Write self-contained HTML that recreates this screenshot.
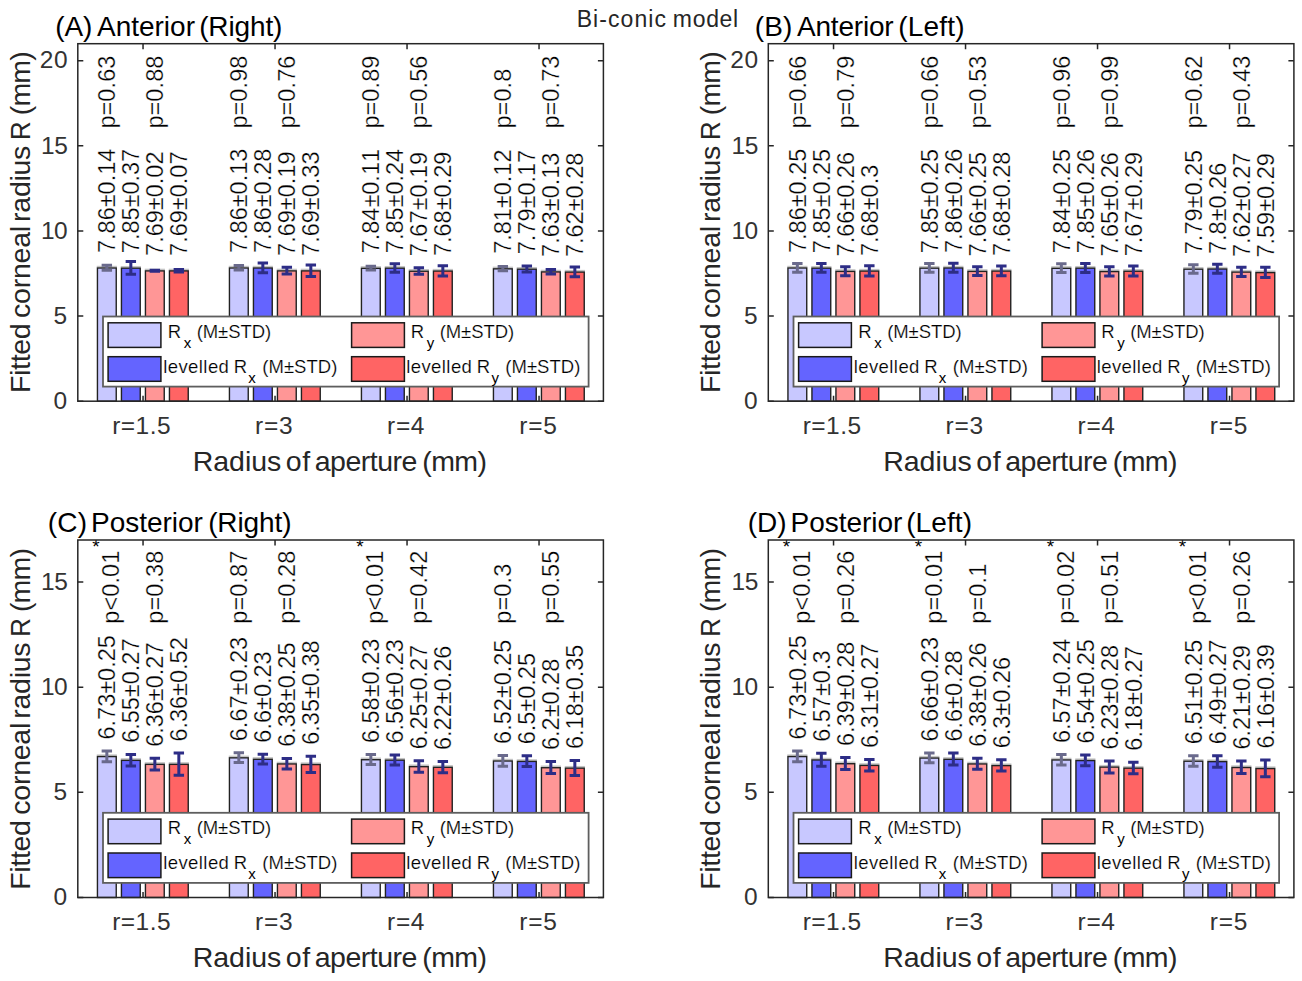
<!DOCTYPE html>
<html><head><meta charset="utf-8"><style>
html,body{margin:0;padding:0;background:#fff;}
svg{display:block;}
text{font-family:"Liberation Sans", sans-serif;font-kerning:none;}
.v{font-size:23.5px;fill:#000;stroke:#fff;stroke-width:0.3px;}
.ast{font-size:19px;fill:#000;}
.tk{font-size:24.5px;fill:#333;}
.xl{font-size:28.5px;fill:#262626;}
.yl{font-size:28.5px;fill:#262626;}
.sb{font-size:15px;fill:#000;}
.ttl{font-size:28px;fill:#000;}
.sup{font-size:23px;fill:#262626;}
.lg{font-size:18.5px;fill:#000;stroke:#fff;stroke-width:0.2px;}
</style></head><body>
<svg width="1302" height="981" viewBox="0 0 1302 981">
<rect width="1302" height="981" fill="#fff"/>
<rect x="96.74" y="265.79" width="20.20" height="1.6" fill="#c4c4c4"/>
<rect x="97.44" y="267.99" width="18.80" height="133.21" fill="#c8c8ff" stroke="#222" stroke-width="1.4"/>
<rect x="120.74" y="265.96" width="20.20" height="1.6" fill="#c4c4c4"/>
<rect x="121.44" y="268.16" width="18.80" height="133.04" fill="#6464ff" stroke="#222" stroke-width="1.4"/>
<rect x="144.74" y="268.69" width="20.20" height="1.6" fill="#c4c4c4"/>
<rect x="145.44" y="270.89" width="18.80" height="130.31" fill="#ff9696" stroke="#222" stroke-width="1.4"/>
<rect x="168.74" y="268.69" width="20.20" height="1.6" fill="#c4c4c4"/>
<rect x="169.44" y="270.89" width="18.80" height="130.31" fill="#ff6464" stroke="#222" stroke-width="1.4"/>
<rect x="228.74" y="265.79" width="20.20" height="1.6" fill="#c4c4c4"/>
<rect x="229.44" y="267.99" width="18.80" height="133.21" fill="#c8c8ff" stroke="#222" stroke-width="1.4"/>
<rect x="252.74" y="265.79" width="20.20" height="1.6" fill="#c4c4c4"/>
<rect x="253.44" y="267.99" width="18.80" height="133.21" fill="#6464ff" stroke="#222" stroke-width="1.4"/>
<rect x="276.74" y="268.69" width="20.20" height="1.6" fill="#c4c4c4"/>
<rect x="277.44" y="270.89" width="18.80" height="130.31" fill="#ff9696" stroke="#222" stroke-width="1.4"/>
<rect x="300.74" y="268.69" width="20.20" height="1.6" fill="#c4c4c4"/>
<rect x="301.44" y="270.89" width="18.80" height="130.31" fill="#ff6464" stroke="#222" stroke-width="1.4"/>
<rect x="360.74" y="266.13" width="20.20" height="1.6" fill="#c4c4c4"/>
<rect x="361.44" y="268.33" width="18.80" height="132.87" fill="#c8c8ff" stroke="#222" stroke-width="1.4"/>
<rect x="384.74" y="265.96" width="20.20" height="1.6" fill="#c4c4c4"/>
<rect x="385.44" y="268.16" width="18.80" height="133.04" fill="#6464ff" stroke="#222" stroke-width="1.4"/>
<rect x="408.74" y="269.03" width="20.20" height="1.6" fill="#c4c4c4"/>
<rect x="409.44" y="271.23" width="18.80" height="129.97" fill="#ff9696" stroke="#222" stroke-width="1.4"/>
<rect x="432.74" y="268.86" width="20.20" height="1.6" fill="#c4c4c4"/>
<rect x="433.44" y="271.06" width="18.80" height="130.14" fill="#ff6464" stroke="#222" stroke-width="1.4"/>
<rect x="492.74" y="266.64" width="20.20" height="1.6" fill="#c4c4c4"/>
<rect x="493.44" y="268.84" width="18.80" height="132.36" fill="#c8c8ff" stroke="#222" stroke-width="1.4"/>
<rect x="516.74" y="266.98" width="20.20" height="1.6" fill="#c4c4c4"/>
<rect x="517.44" y="269.18" width="18.80" height="132.02" fill="#6464ff" stroke="#222" stroke-width="1.4"/>
<rect x="540.74" y="269.71" width="20.20" height="1.6" fill="#c4c4c4"/>
<rect x="541.44" y="271.91" width="18.80" height="129.29" fill="#ff9696" stroke="#222" stroke-width="1.4"/>
<rect x="564.74" y="269.88" width="20.20" height="1.6" fill="#c4c4c4"/>
<rect x="565.44" y="272.08" width="18.80" height="129.12" fill="#ff6464" stroke="#222" stroke-width="1.4"/>
<path d="M106.84 265.31V270.28M101.64 265.31H112.04M101.64 270.28H112.04" stroke="#6a6a8c" stroke-width="3.0" fill="none"/>
<path d="M130.84 261.56V274.36M125.64 261.56H136.04M125.64 274.36H136.04" stroke="#2d2d86" stroke-width="3.0" fill="none"/>
<path d="M154.84 270.25V271.13M149.64 270.25H160.04M149.64 271.13H160.04" stroke="#2d2d86" stroke-width="3.0" fill="none"/>
<path d="M178.84 269.40V271.98M173.64 269.40H184.04M173.64 271.98H184.04" stroke="#2d2d86" stroke-width="3.0" fill="none"/>
<path d="M238.84 265.48V270.11M233.64 265.48H244.04M233.64 270.11H244.04" stroke="#6a6a8c" stroke-width="3.0" fill="none"/>
<path d="M262.84 262.93V272.66M257.64 262.93H268.04M257.64 272.66H268.04" stroke="#2d2d86" stroke-width="3.0" fill="none"/>
<path d="M286.84 267.35V274.02M281.64 267.35H292.04M281.64 274.02H292.04" stroke="#2d2d86" stroke-width="3.0" fill="none"/>
<path d="M310.84 264.97V276.40M305.64 264.97H316.04M305.64 276.40H316.04" stroke="#2d2d86" stroke-width="3.0" fill="none"/>
<path d="M370.84 266.16V270.11M365.64 266.16H376.04M365.64 270.11H376.04" stroke="#6a6a8c" stroke-width="3.0" fill="none"/>
<path d="M394.84 263.78V272.15M389.64 263.78H400.04M389.64 272.15H400.04" stroke="#2d2d86" stroke-width="3.0" fill="none"/>
<path d="M418.84 267.69V274.36M413.64 267.69H424.04M413.64 274.36H424.04" stroke="#2d2d86" stroke-width="3.0" fill="none"/>
<path d="M442.84 265.82V275.89M437.64 265.82H448.04M437.64 275.89H448.04" stroke="#2d2d86" stroke-width="3.0" fill="none"/>
<path d="M502.84 266.50V270.79M497.64 266.50H508.04M497.64 270.79H508.04" stroke="#6a6a8c" stroke-width="3.0" fill="none"/>
<path d="M526.84 265.99V271.98M521.64 265.99H532.04M521.64 271.98H532.04" stroke="#2d2d86" stroke-width="3.0" fill="none"/>
<path d="M550.84 269.40V274.02M545.64 269.40H556.04M545.64 274.02H556.04" stroke="#2d2d86" stroke-width="3.0" fill="none"/>
<path d="M574.84 267.01V276.75M569.64 267.01H580.04M569.64 276.75H580.04" stroke="#2d2d86" stroke-width="3.0" fill="none"/>
<text class="v" transform="translate(115.24,253.00) rotate(-90)" textLength="104.37" lengthAdjust="spacing">7.86±0.14</text>
<text class="v" transform="translate(139.24,253.17) rotate(-90)" textLength="104.37" lengthAdjust="spacing">7.85±0.37</text>
<text class="v" transform="translate(163.24,255.89) rotate(-90)" textLength="104.37" lengthAdjust="spacing">7.69±0.02</text>
<text class="v" transform="translate(187.24,255.89) rotate(-90)" textLength="104.37" lengthAdjust="spacing">7.69±0.07</text>
<text class="v" transform="translate(247.24,253.00) rotate(-90)" textLength="104.37" lengthAdjust="spacing">7.86±0.13</text>
<text class="v" transform="translate(271.24,253.00) rotate(-90)" textLength="104.37" lengthAdjust="spacing">7.86±0.28</text>
<text class="v" transform="translate(295.24,255.89) rotate(-90)" textLength="104.37" lengthAdjust="spacing">7.69±0.19</text>
<text class="v" transform="translate(319.24,255.89) rotate(-90)" textLength="104.37" lengthAdjust="spacing">7.69±0.33</text>
<text class="v" transform="translate(379.24,253.34) rotate(-90)" textLength="104.37" lengthAdjust="spacing">7.84±0.11</text>
<text class="v" transform="translate(403.24,253.17) rotate(-90)" textLength="104.37" lengthAdjust="spacing">7.85±0.24</text>
<text class="v" transform="translate(427.24,256.23) rotate(-90)" textLength="104.37" lengthAdjust="spacing">7.67±0.19</text>
<text class="v" transform="translate(451.24,256.06) rotate(-90)" textLength="104.37" lengthAdjust="spacing">7.68±0.29</text>
<text class="v" transform="translate(511.24,253.85) rotate(-90)" textLength="104.37" lengthAdjust="spacing">7.81±0.12</text>
<text class="v" transform="translate(535.24,254.19) rotate(-90)" textLength="104.37" lengthAdjust="spacing">7.79±0.17</text>
<text class="v" transform="translate(559.24,256.91) rotate(-90)" textLength="104.37" lengthAdjust="spacing">7.63±0.13</text>
<text class="v" transform="translate(583.24,257.08) rotate(-90)" textLength="104.37" lengthAdjust="spacing">7.62±0.28</text>
<text class="v" transform="translate(115.24,128.61) rotate(-90)" textLength="73.03" lengthAdjust="spacing">p=0.63</text>
<text class="v" transform="translate(163.24,128.61) rotate(-90)" textLength="73.03" lengthAdjust="spacing">p=0.88</text>
<text class="v" transform="translate(247.24,128.61) rotate(-90)" textLength="73.03" lengthAdjust="spacing">p=0.98</text>
<text class="v" transform="translate(295.24,128.61) rotate(-90)" textLength="73.03" lengthAdjust="spacing">p=0.76</text>
<text class="v" transform="translate(379.24,128.61) rotate(-90)" textLength="73.03" lengthAdjust="spacing">p=0.89</text>
<text class="v" transform="translate(427.24,128.61) rotate(-90)" textLength="73.03" lengthAdjust="spacing">p=0.56</text>
<text class="v" transform="translate(511.24,128.61) rotate(-90)" textLength="59.96" lengthAdjust="spacing">p=0.8</text>
<text class="v" transform="translate(559.24,128.61) rotate(-90)" textLength="73.03" lengthAdjust="spacing">p=0.73</text>
<rect x="103.00" y="316.50" width="485.6" height="70.1" fill="#fff" stroke="#5e5e5e" stroke-width="1.8"/>
<rect x="108.10" y="322.80" width="52.8" height="24.6" fill="#c8c8ff" stroke="#1a1a1a" stroke-width="1.5"/>
<text class="lg" x="167.68" y="337.80">R</text>
<text class="sb" x="183.63" y="348.00">x</text>
<text class="lg" x="196.65" y="337.80" textLength="74.59" lengthAdjust="spacing">(M±STD)</text>
<rect x="108.10" y="356.70" width="52.8" height="24.6" fill="#6464ff" stroke="#1a1a1a" stroke-width="1.5"/>
<text class="lg" x="163.15" y="372.70" textLength="65.74" lengthAdjust="spacing">levelled</text>
<text class="lg" x="233.78" y="372.70">R</text>
<text class="sb" x="248.33" y="382.90">x</text>
<text class="lg" x="262.25" y="372.70" textLength="75.19" lengthAdjust="spacing">(M±STD)</text>
<rect x="351.60" y="322.80" width="52.8" height="24.6" fill="#ff9696" stroke="#1a1a1a" stroke-width="1.5"/>
<text class="lg" x="410.68" y="337.80">R</text>
<text class="sb" x="426.76" y="348.00">y</text>
<text class="lg" x="439.65" y="337.80" textLength="74.59" lengthAdjust="spacing">(M±STD)</text>
<rect x="351.60" y="356.70" width="52.8" height="24.6" fill="#ff6464" stroke="#1a1a1a" stroke-width="1.5"/>
<text class="lg" x="406.15" y="372.70" textLength="65.74" lengthAdjust="spacing">levelled</text>
<text class="lg" x="476.78" y="372.70">R</text>
<text class="sb" x="491.46" y="382.90">y</text>
<text class="lg" x="505.25" y="372.70" textLength="75.19" lengthAdjust="spacing">(M±STD)</text>
<rect x="77.80" y="43.70" width="525.60" height="357.50" fill="none" stroke="#262626" stroke-width="1.5"/>
<path d="M143.04 401.20v-5.5M143.04 43.70v5.5M275.04 401.20v-5.5M275.04 43.70v5.5M407.04 401.20v-5.5M407.04 43.70v5.5M539.04 401.20v-5.5M539.04 43.70v5.5M77.80 401.20h5.5M603.40 401.20h-5.5M77.80 316.08h5.5M603.40 316.08h-5.5M77.80 230.96h5.5M603.40 230.96h-5.5M77.80 145.84h5.5M603.40 145.84h-5.5M77.80 60.72h5.5M603.40 60.72h-5.5" stroke="#262626" stroke-width="1.5" fill="none"/>
<text class="tk" x="53.54" y="408.90">0</text>
<text class="tk" x="53.52" y="323.78">5</text>
<text class="tk" x="41.03" y="238.66" textLength="26.72" lengthAdjust="spacing">10</text>
<text class="tk" x="41.03" y="153.54" textLength="26.80" lengthAdjust="spacing">15</text>
<text class="tk" x="39.77" y="68.42" textLength="27.99" lengthAdjust="spacing">20</text>
<text class="tk" x="112.17" y="433.90" textLength="58.36" lengthAdjust="spacing">r=1.5</text>
<text class="tk" x="255.07" y="433.90" textLength="37.60" lengthAdjust="spacing">r=3</text>
<text class="tk" x="387.07" y="433.90" textLength="37.44" lengthAdjust="spacing">r=4</text>
<text class="tk" x="519.27" y="433.90" textLength="37.56" lengthAdjust="spacing">r=5</text>
<text class="xl" x="192.76" y="470.80" textLength="88.47" lengthAdjust="spacing">Radius</text>
<text class="xl" x="285.80" y="470.80" textLength="24.46" lengthAdjust="spacing">of</text>
<text class="xl" x="314.69" y="470.80" textLength="102.68" lengthAdjust="spacing">aperture</text>
<text class="xl" x="422.33" y="470.80" textLength="64.63" lengthAdjust="spacing">(mm)</text>
<text class="yl" transform="translate(29.90,393.04) rotate(-90)" textLength="69.77" lengthAdjust="spacing">Fitted</text>
<text class="yl" transform="translate(29.90,317.91) rotate(-90)" textLength="92.02" lengthAdjust="spacing">corneal</text>
<text class="yl" transform="translate(29.90,221.89) rotate(-90)" textLength="76.22" lengthAdjust="spacing">radius</text>
<text class="yl" transform="translate(29.90,139.94) rotate(-90)" textLength="18.66" lengthAdjust="spacingAndGlyphs">R</text>
<text class="yl" transform="translate(29.90,115.27) rotate(-90)" textLength="64.03" lengthAdjust="spacing">(mm)</text>
<text class="ttl" x="55.16" y="35.60" textLength="37.17" lengthAdjust="spacing">(A)</text>
<text class="ttl" x="96.95" y="35.60" textLength="98.02" lengthAdjust="spacing">Anterior</text>
<text class="ttl" x="199.16" y="35.60" textLength="83.27" lengthAdjust="spacing">(Right)</text>
<rect x="787.24" y="265.79" width="20.20" height="1.6" fill="#c4c4c4"/>
<rect x="787.94" y="267.99" width="18.80" height="133.21" fill="#c8c8ff" stroke="#222" stroke-width="1.4"/>
<rect x="811.24" y="265.96" width="20.20" height="1.6" fill="#c4c4c4"/>
<rect x="811.94" y="268.16" width="18.80" height="133.04" fill="#6464ff" stroke="#222" stroke-width="1.4"/>
<rect x="835.24" y="269.20" width="20.20" height="1.6" fill="#c4c4c4"/>
<rect x="835.94" y="271.40" width="18.80" height="129.80" fill="#ff9696" stroke="#222" stroke-width="1.4"/>
<rect x="859.24" y="268.86" width="20.20" height="1.6" fill="#c4c4c4"/>
<rect x="859.94" y="271.06" width="18.80" height="130.14" fill="#ff6464" stroke="#222" stroke-width="1.4"/>
<rect x="919.24" y="265.96" width="20.20" height="1.6" fill="#c4c4c4"/>
<rect x="919.94" y="268.16" width="18.80" height="133.04" fill="#c8c8ff" stroke="#222" stroke-width="1.4"/>
<rect x="943.24" y="265.79" width="20.20" height="1.6" fill="#c4c4c4"/>
<rect x="943.94" y="267.99" width="18.80" height="133.21" fill="#6464ff" stroke="#222" stroke-width="1.4"/>
<rect x="967.24" y="269.20" width="20.20" height="1.6" fill="#c4c4c4"/>
<rect x="967.94" y="271.40" width="18.80" height="129.80" fill="#ff9696" stroke="#222" stroke-width="1.4"/>
<rect x="991.24" y="268.86" width="20.20" height="1.6" fill="#c4c4c4"/>
<rect x="991.94" y="271.06" width="18.80" height="130.14" fill="#ff6464" stroke="#222" stroke-width="1.4"/>
<rect x="1051.24" y="266.13" width="20.20" height="1.6" fill="#c4c4c4"/>
<rect x="1051.94" y="268.33" width="18.80" height="132.87" fill="#c8c8ff" stroke="#222" stroke-width="1.4"/>
<rect x="1075.24" y="265.96" width="20.20" height="1.6" fill="#c4c4c4"/>
<rect x="1075.94" y="268.16" width="18.80" height="133.04" fill="#6464ff" stroke="#222" stroke-width="1.4"/>
<rect x="1099.24" y="269.37" width="20.20" height="1.6" fill="#c4c4c4"/>
<rect x="1099.94" y="271.57" width="18.80" height="129.63" fill="#ff9696" stroke="#222" stroke-width="1.4"/>
<rect x="1123.24" y="269.03" width="20.20" height="1.6" fill="#c4c4c4"/>
<rect x="1123.94" y="271.23" width="18.80" height="129.97" fill="#ff6464" stroke="#222" stroke-width="1.4"/>
<rect x="1183.24" y="266.98" width="20.20" height="1.6" fill="#c4c4c4"/>
<rect x="1183.94" y="269.18" width="18.80" height="132.02" fill="#c8c8ff" stroke="#222" stroke-width="1.4"/>
<rect x="1207.24" y="266.81" width="20.20" height="1.6" fill="#c4c4c4"/>
<rect x="1207.94" y="269.01" width="18.80" height="132.19" fill="#6464ff" stroke="#222" stroke-width="1.4"/>
<rect x="1231.24" y="269.88" width="20.20" height="1.6" fill="#c4c4c4"/>
<rect x="1231.94" y="272.08" width="18.80" height="129.12" fill="#ff9696" stroke="#222" stroke-width="1.4"/>
<rect x="1255.24" y="270.39" width="20.20" height="1.6" fill="#c4c4c4"/>
<rect x="1255.94" y="272.59" width="18.80" height="128.61" fill="#ff6464" stroke="#222" stroke-width="1.4"/>
<path d="M797.34 263.44V272.15M792.14 263.44H802.54M792.14 272.15H802.54" stroke="#6a6a8c" stroke-width="3.0" fill="none"/>
<path d="M821.34 263.61V272.32M816.14 263.61H826.54M816.14 272.32H826.54" stroke="#2d2d86" stroke-width="3.0" fill="none"/>
<path d="M845.34 266.67V275.72M840.14 266.67H850.54M840.14 275.72H850.54" stroke="#2d2d86" stroke-width="3.0" fill="none"/>
<path d="M869.34 265.65V276.06M864.14 265.65H874.54M864.14 276.06H874.54" stroke="#2d2d86" stroke-width="3.0" fill="none"/>
<path d="M929.34 263.61V272.32M924.14 263.61H934.54M924.14 272.32H934.54" stroke="#6a6a8c" stroke-width="3.0" fill="none"/>
<path d="M953.34 263.27V272.32M948.14 263.27H958.54M948.14 272.32H958.54" stroke="#2d2d86" stroke-width="3.0" fill="none"/>
<path d="M977.34 266.84V275.55M972.14 266.84H982.54M972.14 275.55H982.54" stroke="#2d2d86" stroke-width="3.0" fill="none"/>
<path d="M1001.34 265.99V275.72M996.14 265.99H1006.54M996.14 275.72H1006.54" stroke="#2d2d86" stroke-width="3.0" fill="none"/>
<path d="M1061.34 263.78V272.49M1056.14 263.78H1066.54M1056.14 272.49H1066.54" stroke="#6a6a8c" stroke-width="3.0" fill="none"/>
<path d="M1085.34 263.44V272.49M1080.14 263.44H1090.54M1080.14 272.49H1090.54" stroke="#2d2d86" stroke-width="3.0" fill="none"/>
<path d="M1109.34 266.84V275.89M1104.14 266.84H1114.54M1104.14 275.89H1114.54" stroke="#2d2d86" stroke-width="3.0" fill="none"/>
<path d="M1133.34 265.99V276.06M1128.14 265.99H1138.54M1128.14 276.06H1138.54" stroke="#2d2d86" stroke-width="3.0" fill="none"/>
<path d="M1193.34 264.63V273.34M1188.14 264.63H1198.54M1188.14 273.34H1198.54" stroke="#6a6a8c" stroke-width="3.0" fill="none"/>
<path d="M1217.34 264.29V273.34M1212.14 264.29H1222.54M1212.14 273.34H1222.54" stroke="#2d2d86" stroke-width="3.0" fill="none"/>
<path d="M1241.34 267.18V276.57M1236.14 267.18H1246.54M1236.14 276.57H1246.54" stroke="#2d2d86" stroke-width="3.0" fill="none"/>
<path d="M1265.34 267.35V277.43M1260.14 267.35H1270.54M1260.14 277.43H1270.54" stroke="#2d2d86" stroke-width="3.0" fill="none"/>
<text class="v" transform="translate(805.74,253.00) rotate(-90)" textLength="104.37" lengthAdjust="spacing">7.86±0.25</text>
<text class="v" transform="translate(829.74,253.17) rotate(-90)" textLength="104.37" lengthAdjust="spacing">7.85±0.25</text>
<text class="v" transform="translate(853.74,256.40) rotate(-90)" textLength="104.37" lengthAdjust="spacing">7.66±0.26</text>
<text class="v" transform="translate(877.74,256.06) rotate(-90)" textLength="91.30" lengthAdjust="spacing">7.68±0.3</text>
<text class="v" transform="translate(937.74,253.17) rotate(-90)" textLength="104.37" lengthAdjust="spacing">7.85±0.25</text>
<text class="v" transform="translate(961.74,253.00) rotate(-90)" textLength="104.37" lengthAdjust="spacing">7.86±0.26</text>
<text class="v" transform="translate(985.74,256.40) rotate(-90)" textLength="104.37" lengthAdjust="spacing">7.66±0.25</text>
<text class="v" transform="translate(1009.74,256.06) rotate(-90)" textLength="104.37" lengthAdjust="spacing">7.68±0.28</text>
<text class="v" transform="translate(1069.74,253.34) rotate(-90)" textLength="104.37" lengthAdjust="spacing">7.84±0.25</text>
<text class="v" transform="translate(1093.74,253.17) rotate(-90)" textLength="104.37" lengthAdjust="spacing">7.85±0.26</text>
<text class="v" transform="translate(1117.74,256.57) rotate(-90)" textLength="104.37" lengthAdjust="spacing">7.65±0.26</text>
<text class="v" transform="translate(1141.74,256.23) rotate(-90)" textLength="104.37" lengthAdjust="spacing">7.67±0.29</text>
<text class="v" transform="translate(1201.74,254.19) rotate(-90)" textLength="104.37" lengthAdjust="spacing">7.79±0.25</text>
<text class="v" transform="translate(1225.74,254.02) rotate(-90)" textLength="91.30" lengthAdjust="spacing">7.8±0.26</text>
<text class="v" transform="translate(1249.74,257.08) rotate(-90)" textLength="104.37" lengthAdjust="spacing">7.62±0.27</text>
<text class="v" transform="translate(1273.74,257.59) rotate(-90)" textLength="104.37" lengthAdjust="spacing">7.59±0.29</text>
<text class="v" transform="translate(805.74,128.61) rotate(-90)" textLength="73.03" lengthAdjust="spacing">p=0.66</text>
<text class="v" transform="translate(853.74,128.61) rotate(-90)" textLength="73.03" lengthAdjust="spacing">p=0.79</text>
<text class="v" transform="translate(937.74,128.61) rotate(-90)" textLength="73.03" lengthAdjust="spacing">p=0.66</text>
<text class="v" transform="translate(985.74,128.61) rotate(-90)" textLength="73.03" lengthAdjust="spacing">p=0.53</text>
<text class="v" transform="translate(1069.74,128.61) rotate(-90)" textLength="73.03" lengthAdjust="spacing">p=0.96</text>
<text class="v" transform="translate(1117.74,128.61) rotate(-90)" textLength="73.03" lengthAdjust="spacing">p=0.99</text>
<text class="v" transform="translate(1201.74,128.61) rotate(-90)" textLength="73.03" lengthAdjust="spacing">p=0.62</text>
<text class="v" transform="translate(1249.74,128.61) rotate(-90)" textLength="73.03" lengthAdjust="spacing">p=0.43</text>
<rect x="793.50" y="316.50" width="485.6" height="70.1" fill="#fff" stroke="#5e5e5e" stroke-width="1.8"/>
<rect x="798.60" y="322.80" width="52.8" height="24.6" fill="#c8c8ff" stroke="#1a1a1a" stroke-width="1.5"/>
<text class="lg" x="858.18" y="337.80">R</text>
<text class="sb" x="874.13" y="348.00">x</text>
<text class="lg" x="887.15" y="337.80" textLength="74.59" lengthAdjust="spacing">(M±STD)</text>
<rect x="798.60" y="356.70" width="52.8" height="24.6" fill="#6464ff" stroke="#1a1a1a" stroke-width="1.5"/>
<text class="lg" x="853.65" y="372.70" textLength="65.74" lengthAdjust="spacing">levelled</text>
<text class="lg" x="924.28" y="372.70">R</text>
<text class="sb" x="938.83" y="382.90">x</text>
<text class="lg" x="952.75" y="372.70" textLength="75.19" lengthAdjust="spacing">(M±STD)</text>
<rect x="1042.10" y="322.80" width="52.8" height="24.6" fill="#ff9696" stroke="#1a1a1a" stroke-width="1.5"/>
<text class="lg" x="1101.18" y="337.80">R</text>
<text class="sb" x="1117.26" y="348.00">y</text>
<text class="lg" x="1130.15" y="337.80" textLength="74.59" lengthAdjust="spacing">(M±STD)</text>
<rect x="1042.10" y="356.70" width="52.8" height="24.6" fill="#ff6464" stroke="#1a1a1a" stroke-width="1.5"/>
<text class="lg" x="1096.65" y="372.70" textLength="65.74" lengthAdjust="spacing">levelled</text>
<text class="lg" x="1167.28" y="372.70">R</text>
<text class="sb" x="1181.96" y="382.90">y</text>
<text class="lg" x="1195.75" y="372.70" textLength="75.19" lengthAdjust="spacing">(M±STD)</text>
<rect x="768.30" y="43.70" width="525.60" height="357.50" fill="none" stroke="#262626" stroke-width="1.5"/>
<path d="M833.54 401.20v-5.5M833.54 43.70v5.5M965.54 401.20v-5.5M965.54 43.70v5.5M1097.54 401.20v-5.5M1097.54 43.70v5.5M1229.54 401.20v-5.5M1229.54 43.70v5.5M768.30 401.20h5.5M1293.90 401.20h-5.5M768.30 316.08h5.5M1293.90 316.08h-5.5M768.30 230.96h5.5M1293.90 230.96h-5.5M768.30 145.84h5.5M1293.90 145.84h-5.5M768.30 60.72h5.5M1293.90 60.72h-5.5" stroke="#262626" stroke-width="1.5" fill="none"/>
<text class="tk" x="744.04" y="408.90">0</text>
<text class="tk" x="744.02" y="323.78">5</text>
<text class="tk" x="731.53" y="238.66" textLength="26.72" lengthAdjust="spacing">10</text>
<text class="tk" x="731.53" y="153.54" textLength="26.80" lengthAdjust="spacing">15</text>
<text class="tk" x="730.27" y="68.42" textLength="27.99" lengthAdjust="spacing">20</text>
<text class="tk" x="802.67" y="433.90" textLength="58.36" lengthAdjust="spacing">r=1.5</text>
<text class="tk" x="945.57" y="433.90" textLength="37.60" lengthAdjust="spacing">r=3</text>
<text class="tk" x="1077.57" y="433.90" textLength="37.44" lengthAdjust="spacing">r=4</text>
<text class="tk" x="1209.77" y="433.90" textLength="37.56" lengthAdjust="spacing">r=5</text>
<text class="xl" x="883.26" y="470.80" textLength="88.47" lengthAdjust="spacing">Radius</text>
<text class="xl" x="976.30" y="470.80" textLength="24.46" lengthAdjust="spacing">of</text>
<text class="xl" x="1005.19" y="470.80" textLength="102.68" lengthAdjust="spacing">aperture</text>
<text class="xl" x="1112.83" y="470.80" textLength="64.63" lengthAdjust="spacing">(mm)</text>
<text class="yl" transform="translate(720.40,393.04) rotate(-90)" textLength="69.77" lengthAdjust="spacing">Fitted</text>
<text class="yl" transform="translate(720.40,317.91) rotate(-90)" textLength="92.02" lengthAdjust="spacing">corneal</text>
<text class="yl" transform="translate(720.40,221.89) rotate(-90)" textLength="76.22" lengthAdjust="spacing">radius</text>
<text class="yl" transform="translate(720.40,139.94) rotate(-90)" textLength="18.66" lengthAdjust="spacingAndGlyphs">R</text>
<text class="yl" transform="translate(720.40,115.27) rotate(-90)" textLength="64.03" lengthAdjust="spacing">(mm)</text>
<text class="ttl" x="754.76" y="35.60" textLength="37.57" lengthAdjust="spacing">(B)</text>
<text class="ttl" x="796.95" y="35.60" textLength="96.72" lengthAdjust="spacing">Anterior</text>
<text class="ttl" x="898.36" y="35.60" textLength="66.17" lengthAdjust="spacing">(Left)</text>
<rect x="96.74" y="754.37" width="20.20" height="1.6" fill="#c4c4c4"/>
<rect x="97.44" y="756.57" width="18.80" height="140.93" fill="#c8c8ff" stroke="#222" stroke-width="1.4"/>
<rect x="120.74" y="758.16" width="20.20" height="1.6" fill="#c4c4c4"/>
<rect x="121.44" y="760.36" width="18.80" height="137.14" fill="#6464ff" stroke="#222" stroke-width="1.4"/>
<rect x="144.74" y="762.15" width="20.20" height="1.6" fill="#c4c4c4"/>
<rect x="145.44" y="764.35" width="18.80" height="133.15" fill="#ff9696" stroke="#222" stroke-width="1.4"/>
<rect x="168.74" y="762.15" width="20.20" height="1.6" fill="#c4c4c4"/>
<rect x="169.44" y="764.35" width="18.80" height="133.15" fill="#ff6464" stroke="#222" stroke-width="1.4"/>
<rect x="228.74" y="755.63" width="20.20" height="1.6" fill="#c4c4c4"/>
<rect x="229.44" y="757.83" width="18.80" height="139.67" fill="#c8c8ff" stroke="#222" stroke-width="1.4"/>
<rect x="252.74" y="757.11" width="20.20" height="1.6" fill="#c4c4c4"/>
<rect x="253.44" y="759.31" width="18.80" height="138.19" fill="#6464ff" stroke="#222" stroke-width="1.4"/>
<rect x="276.74" y="761.73" width="20.20" height="1.6" fill="#c4c4c4"/>
<rect x="277.44" y="763.93" width="18.80" height="133.57" fill="#ff9696" stroke="#222" stroke-width="1.4"/>
<rect x="300.74" y="762.36" width="20.20" height="1.6" fill="#c4c4c4"/>
<rect x="301.44" y="764.56" width="18.80" height="132.94" fill="#ff6464" stroke="#222" stroke-width="1.4"/>
<rect x="360.74" y="757.53" width="20.20" height="1.6" fill="#c4c4c4"/>
<rect x="361.44" y="759.73" width="18.80" height="137.77" fill="#c8c8ff" stroke="#222" stroke-width="1.4"/>
<rect x="384.74" y="757.95" width="20.20" height="1.6" fill="#c4c4c4"/>
<rect x="385.44" y="760.15" width="18.80" height="137.35" fill="#6464ff" stroke="#222" stroke-width="1.4"/>
<rect x="408.74" y="764.47" width="20.20" height="1.6" fill="#c4c4c4"/>
<rect x="409.44" y="766.67" width="18.80" height="130.83" fill="#ff9696" stroke="#222" stroke-width="1.4"/>
<rect x="432.74" y="765.10" width="20.20" height="1.6" fill="#c4c4c4"/>
<rect x="433.44" y="767.30" width="18.80" height="130.20" fill="#ff6464" stroke="#222" stroke-width="1.4"/>
<rect x="492.74" y="758.79" width="20.20" height="1.6" fill="#c4c4c4"/>
<rect x="493.44" y="760.99" width="18.80" height="136.51" fill="#c8c8ff" stroke="#222" stroke-width="1.4"/>
<rect x="516.74" y="759.21" width="20.20" height="1.6" fill="#c4c4c4"/>
<rect x="517.44" y="761.41" width="18.80" height="136.09" fill="#6464ff" stroke="#222" stroke-width="1.4"/>
<rect x="540.74" y="765.52" width="20.20" height="1.6" fill="#c4c4c4"/>
<rect x="541.44" y="767.72" width="18.80" height="129.78" fill="#ff9696" stroke="#222" stroke-width="1.4"/>
<rect x="564.74" y="765.94" width="20.20" height="1.6" fill="#c4c4c4"/>
<rect x="565.44" y="768.14" width="18.80" height="129.36" fill="#ff6464" stroke="#222" stroke-width="1.4"/>
<path d="M106.84 751.01V761.73M101.64 751.01H112.04M101.64 761.73H112.04" stroke="#6a6a8c" stroke-width="3.0" fill="none"/>
<path d="M130.84 754.38V765.94M125.64 754.38H136.04M125.64 765.94H136.04" stroke="#2d2d86" stroke-width="3.0" fill="none"/>
<path d="M154.84 758.37V769.93M149.64 758.37H160.04M149.64 769.93H160.04" stroke="#2d2d86" stroke-width="3.0" fill="none"/>
<path d="M178.84 753.12V775.19M173.64 753.12H184.04M173.64 775.19H184.04" stroke="#2d2d86" stroke-width="3.0" fill="none"/>
<path d="M238.84 752.70V762.57M233.64 752.70H244.04M233.64 762.57H244.04" stroke="#6a6a8c" stroke-width="3.0" fill="none"/>
<path d="M262.84 754.17V764.04M257.64 754.17H268.04M257.64 764.04H268.04" stroke="#2d2d86" stroke-width="3.0" fill="none"/>
<path d="M286.84 758.38V769.09M281.64 758.38H292.04M281.64 769.09H292.04" stroke="#2d2d86" stroke-width="3.0" fill="none"/>
<path d="M310.84 756.27V772.45M305.64 756.27H316.04M305.64 772.45H316.04" stroke="#2d2d86" stroke-width="3.0" fill="none"/>
<path d="M370.84 754.59V764.46M365.64 754.59H376.04M365.64 764.46H376.04" stroke="#6a6a8c" stroke-width="3.0" fill="none"/>
<path d="M394.84 755.01V764.88M389.64 755.01H400.04M389.64 764.88H400.04" stroke="#2d2d86" stroke-width="3.0" fill="none"/>
<path d="M418.84 760.69V772.24M413.64 760.69H424.04M413.64 772.24H424.04" stroke="#2d2d86" stroke-width="3.0" fill="none"/>
<path d="M442.84 761.53V772.66M437.64 761.53H448.04M437.64 772.66H448.04" stroke="#2d2d86" stroke-width="3.0" fill="none"/>
<path d="M502.84 755.43V766.15M497.64 755.43H508.04M497.64 766.15H508.04" stroke="#6a6a8c" stroke-width="3.0" fill="none"/>
<path d="M526.84 755.85V766.57M521.64 755.85H532.04M521.64 766.57H532.04" stroke="#2d2d86" stroke-width="3.0" fill="none"/>
<path d="M550.84 761.53V773.51M545.64 761.53H556.04M545.64 773.51H556.04" stroke="#2d2d86" stroke-width="3.0" fill="none"/>
<path d="M574.84 760.48V775.40M569.64 760.48H580.04M569.64 775.40H580.04" stroke="#2d2d86" stroke-width="3.0" fill="none"/>
<text class="v" transform="translate(115.24,739.51) rotate(-90)" textLength="104.37" lengthAdjust="spacing">6.73±0.25</text>
<text class="v" transform="translate(139.24,742.87) rotate(-90)" textLength="104.37" lengthAdjust="spacing">6.55±0.27</text>
<text class="v" transform="translate(163.24,746.87) rotate(-90)" textLength="104.37" lengthAdjust="spacing">6.36±0.27</text>
<text class="v" transform="translate(187.24,741.61) rotate(-90)" textLength="104.37" lengthAdjust="spacing">6.36±0.52</text>
<text class="v" transform="translate(247.24,741.19) rotate(-90)" textLength="104.37" lengthAdjust="spacing">6.67±0.23</text>
<text class="v" transform="translate(271.24,742.66) rotate(-90)" textLength="91.30" lengthAdjust="spacing">6.6±0.23</text>
<text class="v" transform="translate(295.24,746.87) rotate(-90)" textLength="104.37" lengthAdjust="spacing">6.38±0.25</text>
<text class="v" transform="translate(319.24,744.77) rotate(-90)" textLength="104.37" lengthAdjust="spacing">6.35±0.38</text>
<text class="v" transform="translate(379.24,743.08) rotate(-90)" textLength="104.37" lengthAdjust="spacing">6.58±0.23</text>
<text class="v" transform="translate(403.24,743.50) rotate(-90)" textLength="104.37" lengthAdjust="spacing">6.56±0.23</text>
<text class="v" transform="translate(427.24,749.18) rotate(-90)" textLength="104.37" lengthAdjust="spacing">6.25±0.27</text>
<text class="v" transform="translate(451.24,750.02) rotate(-90)" textLength="104.37" lengthAdjust="spacing">6.22±0.26</text>
<text class="v" transform="translate(511.24,743.92) rotate(-90)" textLength="104.37" lengthAdjust="spacing">6.52±0.25</text>
<text class="v" transform="translate(535.24,744.34) rotate(-90)" textLength="91.30" lengthAdjust="spacing">6.5±0.25</text>
<text class="v" transform="translate(559.24,750.02) rotate(-90)" textLength="91.30" lengthAdjust="spacing">6.2±0.28</text>
<text class="v" transform="translate(583.24,748.97) rotate(-90)" textLength="104.37" lengthAdjust="spacing">6.18±0.35</text>
<text class="v" transform="translate(119.04,623.71) rotate(-90)" textLength="73.03" lengthAdjust="spacing">p&lt;0.01</text>
<text class="ast" x="96.04" y="552.80" text-anchor="middle">*</text>
<text class="v" transform="translate(163.24,623.71) rotate(-90)" textLength="73.03" lengthAdjust="spacing">p=0.38</text>
<text class="v" transform="translate(247.24,623.71) rotate(-90)" textLength="73.03" lengthAdjust="spacing">p=0.87</text>
<text class="v" transform="translate(295.24,623.71) rotate(-90)" textLength="73.03" lengthAdjust="spacing">p=0.28</text>
<text class="v" transform="translate(383.04,623.71) rotate(-90)" textLength="73.03" lengthAdjust="spacing">p&lt;0.01</text>
<text class="ast" x="360.04" y="552.80" text-anchor="middle">*</text>
<text class="v" transform="translate(427.24,623.71) rotate(-90)" textLength="73.03" lengthAdjust="spacing">p=0.42</text>
<text class="v" transform="translate(511.24,623.71) rotate(-90)" textLength="59.96" lengthAdjust="spacing">p=0.3</text>
<text class="v" transform="translate(559.24,623.71) rotate(-90)" textLength="73.03" lengthAdjust="spacing">p=0.55</text>
<rect x="103.00" y="812.80" width="485.6" height="70.1" fill="#fff" stroke="#5e5e5e" stroke-width="1.8"/>
<rect x="108.10" y="819.10" width="52.8" height="24.6" fill="#c8c8ff" stroke="#1a1a1a" stroke-width="1.5"/>
<text class="lg" x="167.68" y="834.10">R</text>
<text class="sb" x="183.63" y="844.30">x</text>
<text class="lg" x="196.65" y="834.10" textLength="74.59" lengthAdjust="spacing">(M±STD)</text>
<rect x="108.10" y="853.00" width="52.8" height="24.6" fill="#6464ff" stroke="#1a1a1a" stroke-width="1.5"/>
<text class="lg" x="163.15" y="869.00" textLength="65.74" lengthAdjust="spacing">levelled</text>
<text class="lg" x="233.78" y="869.00">R</text>
<text class="sb" x="248.33" y="879.20">x</text>
<text class="lg" x="262.25" y="869.00" textLength="75.19" lengthAdjust="spacing">(M±STD)</text>
<rect x="351.60" y="819.10" width="52.8" height="24.6" fill="#ff9696" stroke="#1a1a1a" stroke-width="1.5"/>
<text class="lg" x="410.68" y="834.10">R</text>
<text class="sb" x="426.76" y="844.30">y</text>
<text class="lg" x="439.65" y="834.10" textLength="74.59" lengthAdjust="spacing">(M±STD)</text>
<rect x="351.60" y="853.00" width="52.8" height="24.6" fill="#ff6464" stroke="#1a1a1a" stroke-width="1.5"/>
<text class="lg" x="406.15" y="869.00" textLength="65.74" lengthAdjust="spacing">levelled</text>
<text class="lg" x="476.78" y="869.00">R</text>
<text class="sb" x="491.46" y="879.20">y</text>
<text class="lg" x="505.25" y="869.00" textLength="75.19" lengthAdjust="spacing">(M±STD)</text>
<rect x="77.80" y="540.00" width="525.60" height="357.50" fill="none" stroke="#262626" stroke-width="1.5"/>
<path d="M143.04 897.50v-5.5M143.04 540.00v5.5M275.04 897.50v-5.5M275.04 540.00v5.5M407.04 897.50v-5.5M407.04 540.00v5.5M539.04 897.50v-5.5M539.04 540.00v5.5M77.80 897.50h5.5M603.40 897.50h-5.5M77.80 792.35h5.5M603.40 792.35h-5.5M77.80 687.21h5.5M603.40 687.21h-5.5M77.80 582.06h5.5M603.40 582.06h-5.5" stroke="#262626" stroke-width="1.5" fill="none"/>
<text class="tk" x="53.54" y="905.20">0</text>
<text class="tk" x="53.52" y="800.05">5</text>
<text class="tk" x="41.03" y="694.91" textLength="26.72" lengthAdjust="spacing">10</text>
<text class="tk" x="41.03" y="589.76" textLength="26.80" lengthAdjust="spacing">15</text>
<text class="tk" x="112.17" y="930.20" textLength="58.36" lengthAdjust="spacing">r=1.5</text>
<text class="tk" x="255.07" y="930.20" textLength="37.60" lengthAdjust="spacing">r=3</text>
<text class="tk" x="387.07" y="930.20" textLength="37.44" lengthAdjust="spacing">r=4</text>
<text class="tk" x="519.27" y="930.20" textLength="37.56" lengthAdjust="spacing">r=5</text>
<text class="xl" x="192.76" y="967.10" textLength="88.47" lengthAdjust="spacing">Radius</text>
<text class="xl" x="285.80" y="967.10" textLength="24.46" lengthAdjust="spacing">of</text>
<text class="xl" x="314.69" y="967.10" textLength="102.68" lengthAdjust="spacing">aperture</text>
<text class="xl" x="422.33" y="967.10" textLength="64.63" lengthAdjust="spacing">(mm)</text>
<text class="yl" transform="translate(29.90,889.84) rotate(-90)" textLength="69.77" lengthAdjust="spacing">Fitted</text>
<text class="yl" transform="translate(29.90,814.71) rotate(-90)" textLength="92.02" lengthAdjust="spacing">corneal</text>
<text class="yl" transform="translate(29.90,718.69) rotate(-90)" textLength="76.22" lengthAdjust="spacing">radius</text>
<text class="yl" transform="translate(29.90,636.74) rotate(-90)" textLength="18.66" lengthAdjust="spacingAndGlyphs">R</text>
<text class="yl" transform="translate(29.90,612.07) rotate(-90)" textLength="64.03" lengthAdjust="spacing">(mm)</text>
<text class="ttl" x="47.76" y="531.90" textLength="39.37" lengthAdjust="spacing">(C)</text>
<text class="ttl" x="91.10" y="531.90" textLength="111.76" lengthAdjust="spacing">Posterior</text>
<text class="ttl" x="208.16" y="531.90" textLength="83.37" lengthAdjust="spacing">(Right)</text>
<rect x="787.24" y="754.37" width="20.20" height="1.6" fill="#c4c4c4"/>
<rect x="787.94" y="756.57" width="18.80" height="140.93" fill="#c8c8ff" stroke="#222" stroke-width="1.4"/>
<rect x="811.24" y="757.74" width="20.20" height="1.6" fill="#c4c4c4"/>
<rect x="811.94" y="759.94" width="18.80" height="137.56" fill="#6464ff" stroke="#222" stroke-width="1.4"/>
<rect x="835.24" y="761.52" width="20.20" height="1.6" fill="#c4c4c4"/>
<rect x="835.94" y="763.72" width="18.80" height="133.78" fill="#ff9696" stroke="#222" stroke-width="1.4"/>
<rect x="859.24" y="763.20" width="20.20" height="1.6" fill="#c4c4c4"/>
<rect x="859.94" y="765.40" width="18.80" height="132.10" fill="#ff6464" stroke="#222" stroke-width="1.4"/>
<rect x="919.24" y="755.84" width="20.20" height="1.6" fill="#c4c4c4"/>
<rect x="919.94" y="758.04" width="18.80" height="139.46" fill="#c8c8ff" stroke="#222" stroke-width="1.4"/>
<rect x="943.24" y="757.11" width="20.20" height="1.6" fill="#c4c4c4"/>
<rect x="943.94" y="759.31" width="18.80" height="138.19" fill="#6464ff" stroke="#222" stroke-width="1.4"/>
<rect x="967.24" y="761.73" width="20.20" height="1.6" fill="#c4c4c4"/>
<rect x="967.94" y="763.93" width="18.80" height="133.57" fill="#ff9696" stroke="#222" stroke-width="1.4"/>
<rect x="991.24" y="763.41" width="20.20" height="1.6" fill="#c4c4c4"/>
<rect x="991.94" y="765.61" width="18.80" height="131.89" fill="#ff6464" stroke="#222" stroke-width="1.4"/>
<rect x="1051.24" y="757.74" width="20.20" height="1.6" fill="#c4c4c4"/>
<rect x="1051.94" y="759.94" width="18.80" height="137.56" fill="#c8c8ff" stroke="#222" stroke-width="1.4"/>
<rect x="1075.24" y="758.37" width="20.20" height="1.6" fill="#c4c4c4"/>
<rect x="1075.94" y="760.57" width="18.80" height="136.93" fill="#6464ff" stroke="#222" stroke-width="1.4"/>
<rect x="1099.24" y="764.89" width="20.20" height="1.6" fill="#c4c4c4"/>
<rect x="1099.94" y="767.09" width="18.80" height="130.41" fill="#ff9696" stroke="#222" stroke-width="1.4"/>
<rect x="1123.24" y="765.94" width="20.20" height="1.6" fill="#c4c4c4"/>
<rect x="1123.94" y="768.14" width="18.80" height="129.36" fill="#ff6464" stroke="#222" stroke-width="1.4"/>
<rect x="1183.24" y="759.00" width="20.20" height="1.6" fill="#c4c4c4"/>
<rect x="1183.94" y="761.20" width="18.80" height="136.30" fill="#c8c8ff" stroke="#222" stroke-width="1.4"/>
<rect x="1207.24" y="759.42" width="20.20" height="1.6" fill="#c4c4c4"/>
<rect x="1207.94" y="761.62" width="18.80" height="135.88" fill="#6464ff" stroke="#222" stroke-width="1.4"/>
<rect x="1231.24" y="765.31" width="20.20" height="1.6" fill="#c4c4c4"/>
<rect x="1231.94" y="767.51" width="18.80" height="129.99" fill="#ff9696" stroke="#222" stroke-width="1.4"/>
<rect x="1255.24" y="766.36" width="20.20" height="1.6" fill="#c4c4c4"/>
<rect x="1255.94" y="768.56" width="18.80" height="128.94" fill="#ff6464" stroke="#222" stroke-width="1.4"/>
<path d="M797.34 751.01V761.73M792.14 751.01H802.54M792.14 761.73H802.54" stroke="#6a6a8c" stroke-width="3.0" fill="none"/>
<path d="M821.34 753.33V766.15M816.14 753.33H826.54M816.14 766.15H826.54" stroke="#2d2d86" stroke-width="3.0" fill="none"/>
<path d="M845.34 757.53V769.51M840.14 757.53H850.54M840.14 769.51H850.54" stroke="#2d2d86" stroke-width="3.0" fill="none"/>
<path d="M869.34 759.43V770.98M864.14 759.43H874.54M864.14 770.98H874.54" stroke="#2d2d86" stroke-width="3.0" fill="none"/>
<path d="M929.34 752.91V762.78M924.14 752.91H934.54M924.14 762.78H934.54" stroke="#6a6a8c" stroke-width="3.0" fill="none"/>
<path d="M953.34 753.12V765.09M948.14 753.12H958.54M948.14 765.09H958.54" stroke="#2d2d86" stroke-width="3.0" fill="none"/>
<path d="M977.34 758.16V769.30M972.14 758.16H982.54M972.14 769.30H982.54" stroke="#2d2d86" stroke-width="3.0" fill="none"/>
<path d="M1001.34 759.85V770.98M996.14 759.85H1006.54M996.14 770.98H1006.54" stroke="#2d2d86" stroke-width="3.0" fill="none"/>
<path d="M1061.34 754.59V764.88M1056.14 754.59H1066.54M1056.14 764.88H1066.54" stroke="#6a6a8c" stroke-width="3.0" fill="none"/>
<path d="M1085.34 755.01V765.73M1080.14 755.01H1090.54M1080.14 765.73H1090.54" stroke="#2d2d86" stroke-width="3.0" fill="none"/>
<path d="M1109.34 760.90V772.88M1104.14 760.90H1114.54M1104.14 772.88H1114.54" stroke="#2d2d86" stroke-width="3.0" fill="none"/>
<path d="M1133.34 762.16V773.72M1128.14 762.16H1138.54M1128.14 773.72H1138.54" stroke="#2d2d86" stroke-width="3.0" fill="none"/>
<path d="M1193.34 755.64V766.36M1188.14 755.64H1198.54M1188.14 766.36H1198.54" stroke="#6a6a8c" stroke-width="3.0" fill="none"/>
<path d="M1217.34 755.64V767.20M1212.14 755.64H1222.54M1212.14 767.20H1222.54" stroke="#2d2d86" stroke-width="3.0" fill="none"/>
<path d="M1241.34 761.11V773.51M1236.14 761.11H1246.54M1236.14 773.51H1246.54" stroke="#2d2d86" stroke-width="3.0" fill="none"/>
<path d="M1265.34 760.06V776.66M1260.14 760.06H1270.54M1260.14 776.66H1270.54" stroke="#2d2d86" stroke-width="3.0" fill="none"/>
<text class="v" transform="translate(805.74,739.51) rotate(-90)" textLength="104.37" lengthAdjust="spacing">6.73±0.25</text>
<text class="v" transform="translate(829.74,741.82) rotate(-90)" textLength="91.30" lengthAdjust="spacing">6.57±0.3</text>
<text class="v" transform="translate(853.74,746.03) rotate(-90)" textLength="104.37" lengthAdjust="spacing">6.39±0.28</text>
<text class="v" transform="translate(877.74,747.92) rotate(-90)" textLength="104.37" lengthAdjust="spacing">6.31±0.27</text>
<text class="v" transform="translate(937.74,741.40) rotate(-90)" textLength="104.37" lengthAdjust="spacing">6.66±0.23</text>
<text class="v" transform="translate(961.74,741.61) rotate(-90)" textLength="91.30" lengthAdjust="spacing">6.6±0.28</text>
<text class="v" transform="translate(985.74,746.66) rotate(-90)" textLength="104.37" lengthAdjust="spacing">6.38±0.26</text>
<text class="v" transform="translate(1009.74,748.34) rotate(-90)" textLength="91.30" lengthAdjust="spacing">6.3±0.26</text>
<text class="v" transform="translate(1069.74,743.08) rotate(-90)" textLength="104.37" lengthAdjust="spacing">6.57±0.24</text>
<text class="v" transform="translate(1093.74,743.50) rotate(-90)" textLength="104.37" lengthAdjust="spacing">6.54±0.25</text>
<text class="v" transform="translate(1117.74,749.39) rotate(-90)" textLength="104.37" lengthAdjust="spacing">6.23±0.28</text>
<text class="v" transform="translate(1141.74,750.65) rotate(-90)" textLength="104.37" lengthAdjust="spacing">6.18±0.27</text>
<text class="v" transform="translate(1201.74,744.13) rotate(-90)" textLength="104.37" lengthAdjust="spacing">6.51±0.25</text>
<text class="v" transform="translate(1225.74,744.13) rotate(-90)" textLength="104.37" lengthAdjust="spacing">6.49±0.27</text>
<text class="v" transform="translate(1249.74,749.60) rotate(-90)" textLength="104.37" lengthAdjust="spacing">6.21±0.29</text>
<text class="v" transform="translate(1273.74,748.55) rotate(-90)" textLength="104.37" lengthAdjust="spacing">6.16±0.39</text>
<text class="v" transform="translate(809.54,623.71) rotate(-90)" textLength="73.03" lengthAdjust="spacing">p&lt;0.01</text>
<text class="ast" x="786.54" y="552.80" text-anchor="middle">*</text>
<text class="v" transform="translate(853.74,623.71) rotate(-90)" textLength="73.03" lengthAdjust="spacing">p=0.26</text>
<text class="v" transform="translate(941.54,623.71) rotate(-90)" textLength="73.03" lengthAdjust="spacing">p=0.01</text>
<text class="ast" x="918.54" y="552.80" text-anchor="middle">*</text>
<text class="v" transform="translate(985.74,623.71) rotate(-90)" textLength="59.96" lengthAdjust="spacing">p=0.1</text>
<text class="v" transform="translate(1073.54,623.71) rotate(-90)" textLength="73.03" lengthAdjust="spacing">p=0.02</text>
<text class="ast" x="1050.54" y="552.80" text-anchor="middle">*</text>
<text class="v" transform="translate(1117.74,623.71) rotate(-90)" textLength="73.03" lengthAdjust="spacing">p=0.51</text>
<text class="v" transform="translate(1205.54,623.71) rotate(-90)" textLength="73.03" lengthAdjust="spacing">p&lt;0.01</text>
<text class="ast" x="1182.54" y="552.80" text-anchor="middle">*</text>
<text class="v" transform="translate(1249.74,623.71) rotate(-90)" textLength="73.03" lengthAdjust="spacing">p=0.26</text>
<rect x="793.50" y="812.80" width="485.6" height="70.1" fill="#fff" stroke="#5e5e5e" stroke-width="1.8"/>
<rect x="798.60" y="819.10" width="52.8" height="24.6" fill="#c8c8ff" stroke="#1a1a1a" stroke-width="1.5"/>
<text class="lg" x="858.18" y="834.10">R</text>
<text class="sb" x="874.13" y="844.30">x</text>
<text class="lg" x="887.15" y="834.10" textLength="74.59" lengthAdjust="spacing">(M±STD)</text>
<rect x="798.60" y="853.00" width="52.8" height="24.6" fill="#6464ff" stroke="#1a1a1a" stroke-width="1.5"/>
<text class="lg" x="853.65" y="869.00" textLength="65.74" lengthAdjust="spacing">levelled</text>
<text class="lg" x="924.28" y="869.00">R</text>
<text class="sb" x="938.83" y="879.20">x</text>
<text class="lg" x="952.75" y="869.00" textLength="75.19" lengthAdjust="spacing">(M±STD)</text>
<rect x="1042.10" y="819.10" width="52.8" height="24.6" fill="#ff9696" stroke="#1a1a1a" stroke-width="1.5"/>
<text class="lg" x="1101.18" y="834.10">R</text>
<text class="sb" x="1117.26" y="844.30">y</text>
<text class="lg" x="1130.15" y="834.10" textLength="74.59" lengthAdjust="spacing">(M±STD)</text>
<rect x="1042.10" y="853.00" width="52.8" height="24.6" fill="#ff6464" stroke="#1a1a1a" stroke-width="1.5"/>
<text class="lg" x="1096.65" y="869.00" textLength="65.74" lengthAdjust="spacing">levelled</text>
<text class="lg" x="1167.28" y="869.00">R</text>
<text class="sb" x="1181.96" y="879.20">y</text>
<text class="lg" x="1195.75" y="869.00" textLength="75.19" lengthAdjust="spacing">(M±STD)</text>
<rect x="768.30" y="540.00" width="525.60" height="357.50" fill="none" stroke="#262626" stroke-width="1.5"/>
<path d="M833.54 897.50v-5.5M833.54 540.00v5.5M965.54 897.50v-5.5M965.54 540.00v5.5M1097.54 897.50v-5.5M1097.54 540.00v5.5M1229.54 897.50v-5.5M1229.54 540.00v5.5M768.30 897.50h5.5M1293.90 897.50h-5.5M768.30 792.35h5.5M1293.90 792.35h-5.5M768.30 687.21h5.5M1293.90 687.21h-5.5M768.30 582.06h5.5M1293.90 582.06h-5.5" stroke="#262626" stroke-width="1.5" fill="none"/>
<text class="tk" x="744.04" y="905.20">0</text>
<text class="tk" x="744.02" y="800.05">5</text>
<text class="tk" x="731.53" y="694.91" textLength="26.72" lengthAdjust="spacing">10</text>
<text class="tk" x="731.53" y="589.76" textLength="26.80" lengthAdjust="spacing">15</text>
<text class="tk" x="802.67" y="930.20" textLength="58.36" lengthAdjust="spacing">r=1.5</text>
<text class="tk" x="945.57" y="930.20" textLength="37.60" lengthAdjust="spacing">r=3</text>
<text class="tk" x="1077.57" y="930.20" textLength="37.44" lengthAdjust="spacing">r=4</text>
<text class="tk" x="1209.77" y="930.20" textLength="37.56" lengthAdjust="spacing">r=5</text>
<text class="xl" x="883.26" y="967.10" textLength="88.47" lengthAdjust="spacing">Radius</text>
<text class="xl" x="976.30" y="967.10" textLength="24.46" lengthAdjust="spacing">of</text>
<text class="xl" x="1005.19" y="967.10" textLength="102.68" lengthAdjust="spacing">aperture</text>
<text class="xl" x="1112.83" y="967.10" textLength="64.63" lengthAdjust="spacing">(mm)</text>
<text class="yl" transform="translate(720.40,889.84) rotate(-90)" textLength="69.77" lengthAdjust="spacing">Fitted</text>
<text class="yl" transform="translate(720.40,814.71) rotate(-90)" textLength="92.02" lengthAdjust="spacing">corneal</text>
<text class="yl" transform="translate(720.40,718.69) rotate(-90)" textLength="76.22" lengthAdjust="spacing">radius</text>
<text class="yl" transform="translate(720.40,636.74) rotate(-90)" textLength="18.66" lengthAdjust="spacingAndGlyphs">R</text>
<text class="yl" transform="translate(720.40,612.07) rotate(-90)" textLength="64.03" lengthAdjust="spacing">(mm)</text>
<text class="ttl" x="747.76" y="531.90" textLength="38.87" lengthAdjust="spacing">(D)</text>
<text class="ttl" x="790.60" y="531.90" textLength="111.76" lengthAdjust="spacing">Posterior</text>
<text class="ttl" x="906.16" y="531.90" textLength="65.87" lengthAdjust="spacing">(Left)</text>
<text class="sup" x="576.71" y="26.70" textLength="89.29" lengthAdjust="spacing">Bi-conic</text>
<text class="sup" x="672.87" y="26.70" textLength="65.27" lengthAdjust="spacing">model</text>
</svg>
</body></html>
